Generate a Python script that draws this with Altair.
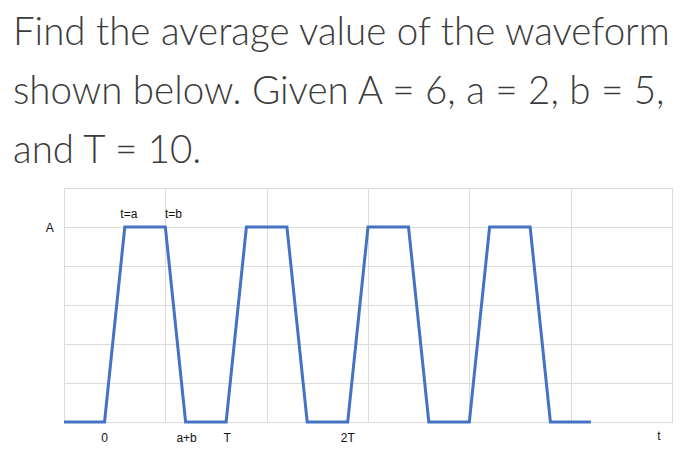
import altair as alt
import pandas as pd

# waveform vertices (t in grid units, level in grid units)
wave_t = [0, 2, 3, 5, 6, 8, 9, 11, 12, 14, 15, 17, 18, 20, 21, 23, 24, 26]
wave_v = [0, 0, 5, 5, 0, 0, 5, 5, 0, 0, 5, 5, 0, 0, 5, 5, 0, 0]

# annotation labels
label_text = ["0", "a+b", "T", "2T", "t", "A", "t=a", "t=b"]
label_t = [2, 6.05, 8.05, 14, 29.35, -0.7, 3.2, 5.4]
label_v = [-0.42, -0.42, -0.42, -0.42, -0.36, 4.97, 5.33, 5.33]

# grid positions
grid_t = [0, 5, 10, 15, 20, 25, 30]
grid_v = [0, 1, 2, 3, 4, 5, 6]

question = [
    "Find the average value of the waveform",
    "shown below. Given A = 6, a = 2, b = 5,",
    "and T = 10.",
]

wave = pd.DataFrame({"t": wave_t, "v": wave_v, "order": range(len(wave_t))})
labels = pd.DataFrame({"label": label_text, "t": label_t, "v": label_v})

xscale = alt.Scale(domain=[0, 30], nice=False, zero=False)
yscale = alt.Scale(domain=[0, 6], nice=False)
xaxis = alt.Axis(values=grid_t, labels=False, ticks=False, domain=False, title=None,
                 grid=True, gridColor="#dcdcdc")
yaxis = alt.Axis(values=grid_v, labels=False, ticks=False, domain=False, title=None,
                 grid=True, gridColor="#dcdcdc")

line = alt.Chart(wave).mark_line(color="#4472c4", strokeWidth=3, clip=False).encode(
    x=alt.X("t:Q", scale=xscale, axis=xaxis),
    y=alt.Y("v:Q", scale=yscale, axis=yaxis),
    order="order:Q",
)

text = alt.Chart(labels).mark_text(font="Liberation Sans", fontSize=12, color="#111111").encode(
    x=alt.X("t:Q", scale=xscale, axis=xaxis),
    y=alt.Y("v:Q", scale=yscale, axis=yaxis),
    text="label:N",
)

chart = (line + text).properties(
    width=608,
    height=234,
    padding={"left": 5, "top": 5, "right": 3, "bottom": 5},
    title=alt.TitleParams(
        text=question,
        anchor="start",
        frame="group",
        font="Lato",
        fontSize=38.5,
        fontWeight=300,
        color="#3c3c3c",
        lineHeight=59,
        dx=-51,
        offset=17,
    ),
).configure_view(stroke="#dcdcdc")

chart.save("out.html", embed_options={"renderer": "svg", "actions": False})
